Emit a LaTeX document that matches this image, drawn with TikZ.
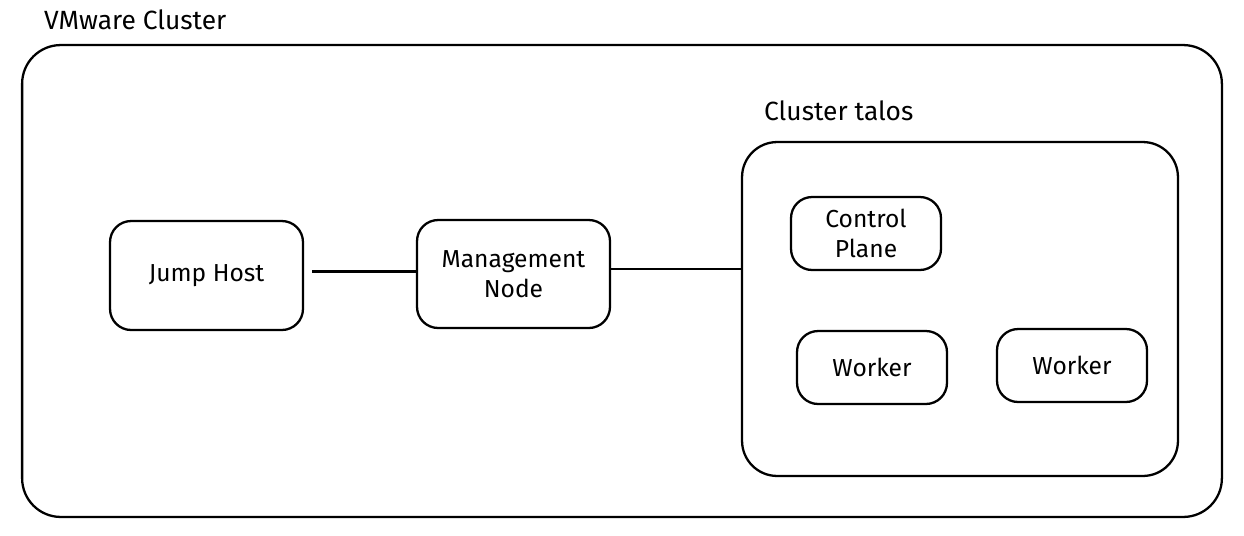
\documentclass[tikz,border=0pt]{standalone}
\usepackage{fontspec}
\setmainfont{Fira Sans}
\usetikzlibrary{positioning}
\tikzset{
  box/.style={draw, line width=1.3pt, rounded corners=12pt, font=\fontsize{14}{17}\selectfont, align=center},
  label text/.style={font=\fontsize{15}{18}\selectfont, anchor=west},
  link/.style={line width=1.6pt}
}
\begin{document}
\begin{tikzpicture}[x=0.02cm, y=-0.02cm]
        \useasboundingbox (0,0) rectangle (1244,535);

        \node [box, rounded corners=22pt, minimum width=24cm, minimum height=9.44cm] (vmware) at (622,281) {};
        \node [label text] (vmware-label) at (38,20) {VMware Cluster};

        \node [box, rounded corners=20pt, minimum width=8.72cm, minimum height=6.68cm] (talos) at (960,309) {};
        \node [label text] (talos-label) at (758,111) {Cluster talos};

        \node [box, minimum width=3.86cm, minimum height=2.18cm] (jump) at (206.5,275.5) {Jump Host};
        \node [box, minimum width=3.86cm, minimum height=2.16cm] (mgmt) at (513.5,274) {Management\\Node};

        \node [box, minimum width=3cm, minimum height=1.46cm] (control) at (866,233.5) {Control\\Plane};
        \node [box, minimum width=3cm, minimum height=1.46cm] (worker-1) at (872,367.5) {Worker};
        \node [box, minimum width=3cm, minimum height=1.46cm] (worker-2) at (1072,365.5) {Worker};

        \draw [link] (jump.east) ++(8,-4) coordinate (j-out) -- (j-out -| mgmt.west);
        \draw [link] (mgmt.east) ++(0,-5) coordinate (m-out) -- (m-out -| talos.west);

\end{tikzpicture}
\end{document}
